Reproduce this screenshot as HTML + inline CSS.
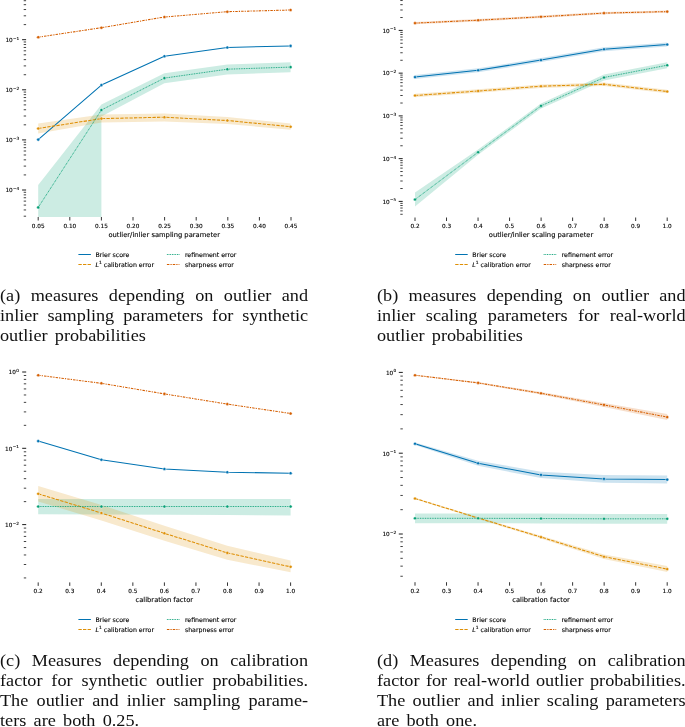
<!DOCTYPE html>
<html><head><meta charset="utf-8"><title>figure</title>
<style>
html,body{margin:0;padding:0;background:#fff;}
body{width:685px;height:727px;position:relative;overflow:hidden;}
svg{position:absolute;left:0;top:0;}
svg text{stroke:#000;stroke-width:0.12px;}
.cl{position:absolute;font-family:"Liberation Serif","DejaVu Serif",serif;font-size:16.2px;line-height:20.15px;height:20.15px;color:#111;white-space:nowrap;text-align:justify;text-align-last:justify;transform:scaleX(1.125);transform-origin:0 0;}
.cl.last{text-align:left;text-align-last:left;word-spacing:2.4px;}
</style></head><body>
<svg width="685" height="727" viewBox="0 0 685 727" font-family="'DejaVu Sans', 'Liberation Sans', sans-serif">
<g>
<polygon points="38.2,185 101.4,104.5 164.4,73.2 227.3,64.5 290.6,62.2 290.6,72.2 227.3,74.5 164.4,83.2 101.4,116.5 101.4,217 38.2,217" fill="#029e73" fill-opacity="0.2"/>
<polygon points="38.2,123.6 101.4,114.5 164.4,113.6 227.3,117 290.6,123.5 290.6,129.7 227.3,124 164.4,121.5 101.4,122.4 38.2,133.4" fill="#de8f05" fill-opacity="0.2"/>
<polyline points="38.2,139.6 101.4,85.1 164.4,56.2 227.3,47.5 290.6,45.9" fill="none" stroke="#0173b2" stroke-width="1.05" stroke-linejoin="round"/>
<circle cx="38.2" cy="139.6" r="1.55" fill="#0173b2" stroke="#fff" stroke-width="0.45"/>
<circle cx="101.4" cy="85.1" r="1.55" fill="#0173b2" stroke="#fff" stroke-width="0.45"/>
<circle cx="164.4" cy="56.2" r="1.55" fill="#0173b2" stroke="#fff" stroke-width="0.45"/>
<circle cx="227.3" cy="47.5" r="1.55" fill="#0173b2" stroke="#fff" stroke-width="0.45"/>
<circle cx="290.6" cy="45.9" r="1.55" fill="#0173b2" stroke="#fff" stroke-width="0.45"/>
<polyline points="38.2,128.5 101.4,118.6 164.4,117.2 227.3,120.5 290.6,126.7" fill="none" stroke="#de8f05" stroke-width="1.05" stroke-dasharray="3.35 1.25" stroke-linejoin="round"/>
<circle cx="38.2" cy="128.5" r="1.55" fill="#de8f05" stroke="#fff" stroke-width="0.45"/>
<circle cx="101.4" cy="118.6" r="1.55" fill="#de8f05" stroke="#fff" stroke-width="0.45"/>
<circle cx="164.4" cy="117.2" r="1.55" fill="#de8f05" stroke="#fff" stroke-width="0.45"/>
<circle cx="227.3" cy="120.5" r="1.55" fill="#de8f05" stroke="#fff" stroke-width="0.45"/>
<circle cx="290.6" cy="126.7" r="1.55" fill="#de8f05" stroke="#fff" stroke-width="0.45"/>
<polyline points="38.2,207.4 101.4,110 164.4,78.1 227.3,69.2 290.6,67.1" fill="none" stroke="#029e73" stroke-width="0.95" stroke-dasharray="0.84 0.84" stroke-linejoin="round"/>
<circle cx="38.2" cy="207.4" r="1.55" fill="#029e73" stroke="#fff" stroke-width="0.45"/>
<circle cx="101.4" cy="110" r="1.55" fill="#029e73" stroke="#fff" stroke-width="0.45"/>
<circle cx="164.4" cy="78.1" r="1.55" fill="#029e73" stroke="#fff" stroke-width="0.45"/>
<circle cx="227.3" cy="69.2" r="1.55" fill="#029e73" stroke="#fff" stroke-width="0.45"/>
<circle cx="290.6" cy="67.1" r="1.55" fill="#029e73" stroke="#fff" stroke-width="0.45"/>
<polyline points="38.2,37.2 101.4,27.7 164.4,17 227.3,11.7 290.6,10" fill="none" stroke="#d55e00" stroke-width="1.05" stroke-dasharray="2.5 1.05 1.25 1.05" stroke-linejoin="round"/>
<circle cx="38.2" cy="37.2" r="1.55" fill="#d55e00" stroke="#fff" stroke-width="0.45"/>
<circle cx="101.4" cy="27.7" r="1.55" fill="#d55e00" stroke="#fff" stroke-width="0.45"/>
<circle cx="164.4" cy="17" r="1.55" fill="#d55e00" stroke="#fff" stroke-width="0.45"/>
<circle cx="227.3" cy="11.7" r="1.55" fill="#d55e00" stroke="#fff" stroke-width="0.45"/>
<circle cx="290.6" cy="10" r="1.55" fill="#d55e00" stroke="#fff" stroke-width="0.45"/>
<line x1="23.7" x2="26.1" y1="216.2" y2="216.2" stroke="#000" stroke-width="0.75"/>
<line x1="23.7" x2="26.1" y1="209.94" y2="209.94" stroke="#000" stroke-width="0.75"/>
<line x1="23.7" x2="26.1" y1="205.08" y2="205.08" stroke="#000" stroke-width="0.75"/>
<line x1="23.7" x2="26.1" y1="201.11" y2="201.11" stroke="#000" stroke-width="0.75"/>
<line x1="23.7" x2="26.1" y1="197.76" y2="197.76" stroke="#000" stroke-width="0.75"/>
<line x1="23.7" x2="26.1" y1="194.86" y2="194.86" stroke="#000" stroke-width="0.75"/>
<line x1="23.7" x2="26.1" y1="192.29" y2="192.29" stroke="#000" stroke-width="0.75"/>
<line x1="22.1" x2="26.1" y1="190" y2="190" stroke="#000" stroke-width="0.9"/>
<line x1="23.7" x2="26.1" y1="174.92" y2="174.92" stroke="#000" stroke-width="0.75"/>
<line x1="23.7" x2="26.1" y1="166.1" y2="166.1" stroke="#000" stroke-width="0.75"/>
<line x1="23.7" x2="26.1" y1="159.84" y2="159.84" stroke="#000" stroke-width="0.75"/>
<line x1="23.7" x2="26.1" y1="154.98" y2="154.98" stroke="#000" stroke-width="0.75"/>
<line x1="23.7" x2="26.1" y1="151.01" y2="151.01" stroke="#000" stroke-width="0.75"/>
<line x1="23.7" x2="26.1" y1="147.66" y2="147.66" stroke="#000" stroke-width="0.75"/>
<line x1="23.7" x2="26.1" y1="144.76" y2="144.76" stroke="#000" stroke-width="0.75"/>
<line x1="23.7" x2="26.1" y1="142.19" y2="142.19" stroke="#000" stroke-width="0.75"/>
<line x1="22.1" x2="26.1" y1="139.9" y2="139.9" stroke="#000" stroke-width="0.9"/>
<line x1="23.7" x2="26.1" y1="124.82" y2="124.82" stroke="#000" stroke-width="0.75"/>
<line x1="23.7" x2="26.1" y1="116" y2="116" stroke="#000" stroke-width="0.75"/>
<line x1="23.7" x2="26.1" y1="109.74" y2="109.74" stroke="#000" stroke-width="0.75"/>
<line x1="23.7" x2="26.1" y1="104.88" y2="104.88" stroke="#000" stroke-width="0.75"/>
<line x1="23.7" x2="26.1" y1="100.91" y2="100.91" stroke="#000" stroke-width="0.75"/>
<line x1="23.7" x2="26.1" y1="97.56" y2="97.56" stroke="#000" stroke-width="0.75"/>
<line x1="23.7" x2="26.1" y1="94.66" y2="94.66" stroke="#000" stroke-width="0.75"/>
<line x1="23.7" x2="26.1" y1="92.09" y2="92.09" stroke="#000" stroke-width="0.75"/>
<line x1="22.1" x2="26.1" y1="89.8" y2="89.8" stroke="#000" stroke-width="0.9"/>
<line x1="23.7" x2="26.1" y1="74.72" y2="74.72" stroke="#000" stroke-width="0.75"/>
<line x1="23.7" x2="26.1" y1="65.9" y2="65.9" stroke="#000" stroke-width="0.75"/>
<line x1="23.7" x2="26.1" y1="59.64" y2="59.64" stroke="#000" stroke-width="0.75"/>
<line x1="23.7" x2="26.1" y1="54.78" y2="54.78" stroke="#000" stroke-width="0.75"/>
<line x1="23.7" x2="26.1" y1="50.81" y2="50.81" stroke="#000" stroke-width="0.75"/>
<line x1="23.7" x2="26.1" y1="47.46" y2="47.46" stroke="#000" stroke-width="0.75"/>
<line x1="23.7" x2="26.1" y1="44.56" y2="44.56" stroke="#000" stroke-width="0.75"/>
<line x1="23.7" x2="26.1" y1="41.99" y2="41.99" stroke="#000" stroke-width="0.75"/>
<line x1="22.1" x2="26.1" y1="39.7" y2="39.7" stroke="#000" stroke-width="0.9"/>
<line x1="23.7" x2="26.1" y1="24.62" y2="24.62" stroke="#000" stroke-width="0.75"/>
<line x1="23.7" x2="26.1" y1="15.8" y2="15.8" stroke="#000" stroke-width="0.75"/>
<line x1="23.7" x2="26.1" y1="9.54" y2="9.54" stroke="#000" stroke-width="0.75"/>
<line x1="23.7" x2="26.1" y1="4.68" y2="4.68" stroke="#000" stroke-width="0.75"/>
<line x1="23.7" x2="26.1" y1="0.71" y2="0.71" stroke="#000" stroke-width="0.75"/>
<text x="19.2" y="42" text-anchor="end" font-size="5.75" fill="#000">10<tspan dx="0.3" dy="-2.3" font-size="4.2">−1</tspan></text>
<text x="19.2" y="92.1" text-anchor="end" font-size="5.75" fill="#000">10<tspan dx="0.3" dy="-2.3" font-size="4.2">−2</tspan></text>
<text x="19.2" y="142.2" text-anchor="end" font-size="5.75" fill="#000">10<tspan dx="0.3" dy="-2.3" font-size="4.2">−3</tspan></text>
<text x="19.2" y="192.3" text-anchor="end" font-size="5.75" fill="#000">10<tspan dx="0.3" dy="-2.3" font-size="4.2">−4</tspan></text>
<line x1="38.2" x2="38.2" y1="217" y2="220.5" stroke="#000" stroke-width="0.8"/>
<text x="38.2" y="227.8" text-anchor="middle" font-size="5.75" fill="#000">0.05</text>
<line x1="69.8" x2="69.8" y1="217" y2="220.5" stroke="#000" stroke-width="0.8"/>
<text x="69.8" y="227.8" text-anchor="middle" font-size="5.75" fill="#000">0.10</text>
<line x1="101.4" x2="101.4" y1="217" y2="220.5" stroke="#000" stroke-width="0.8"/>
<text x="101.4" y="227.8" text-anchor="middle" font-size="5.75" fill="#000">0.15</text>
<line x1="133" x2="133" y1="217" y2="220.5" stroke="#000" stroke-width="0.8"/>
<text x="133" y="227.8" text-anchor="middle" font-size="5.75" fill="#000">0.20</text>
<line x1="164.6" x2="164.6" y1="217" y2="220.5" stroke="#000" stroke-width="0.8"/>
<text x="164.6" y="227.8" text-anchor="middle" font-size="5.75" fill="#000">0.25</text>
<line x1="196.2" x2="196.2" y1="217" y2="220.5" stroke="#000" stroke-width="0.8"/>
<text x="196.2" y="227.8" text-anchor="middle" font-size="5.75" fill="#000">0.30</text>
<line x1="227.8" x2="227.8" y1="217" y2="220.5" stroke="#000" stroke-width="0.8"/>
<text x="227.8" y="227.8" text-anchor="middle" font-size="5.75" fill="#000">0.35</text>
<line x1="259.4" x2="259.4" y1="217" y2="220.5" stroke="#000" stroke-width="0.8"/>
<text x="259.4" y="227.8" text-anchor="middle" font-size="5.75" fill="#000">0.40</text>
<line x1="291" x2="291" y1="217" y2="220.5" stroke="#000" stroke-width="0.8"/>
<text x="291" y="227.8" text-anchor="middle" font-size="5.75" fill="#000">0.45</text>
<text x="164.2" y="237.2" text-anchor="middle" font-size="6.75" fill="#000">outlier/inlier sampling parameter</text>
<line x1="78.4" x2="90.9" y1="254.5" y2="254.5" stroke="#0173b2" stroke-width="1.05"/>
<text x="95.5" y="256.8" font-size="6.25" fill="#000">Brier score</text>
<line x1="78.4" x2="90.9" y1="264.4" y2="264.4" stroke="#de8f05" stroke-width="1.05" stroke-dasharray="3.35 1.25"/>
<text x="95.5" y="266.7" font-size="6.25" fill="#000"><tspan font-style="italic">L</tspan><tspan dy="-2.4" font-size="4.4">1</tspan><tspan dy="2.4"> calibration error</tspan></text>
<line x1="166.9" x2="179.4" y1="254.5" y2="254.5" stroke="#029e73" stroke-width="1.05" stroke-dasharray="0.84 0.84"/>
<text x="184.9" y="256.8" font-size="6.25" fill="#000">refinement error</text>
<line x1="166.9" x2="179.4" y1="264.4" y2="264.4" stroke="#d55e00" stroke-width="1.05" stroke-dasharray="2.5 1.05 1.25 1.05"/>
<text x="184.9" y="266.7" font-size="6.25" fill="#000">sharpness error</text>
</g>
<g>
<polygon points="415,75.1 478.1,68.3 541,58.1 604,47.2 667.2,42.5 667.2,46.5 604,51.2 541,62.1 478.1,72.3 415,79.1" fill="#0173b2" fill-opacity="0.2"/>
<polygon points="415,93.8 478.1,89.3 541,84.5 604,82.6 667.2,89.8 667.2,93.2 604,86 541,87.9 478.1,92.7 415,97.2" fill="#de8f05" fill-opacity="0.2"/>
<polygon points="415,192.5 478.1,149.6 541,103.4 604,74.5 667.2,62.2 667.2,68.2 604,80.5 541,108.4 478.1,154.8 415,206.5" fill="#029e73" fill-opacity="0.2"/>
<polygon points="415,21.9 478.1,19 541,15.6 604,11.9 667.2,10.4 667.2,12.8 604,14.3 541,18 478.1,21.4 415,24.3" fill="#d55e00" fill-opacity="0.2"/>
<polyline points="415,77.1 478.1,70.3 541,60.1 604,49.2 667.2,44.5" fill="none" stroke="#0173b2" stroke-width="1.05" stroke-linejoin="round"/>
<circle cx="415" cy="77.1" r="1.55" fill="#0173b2" stroke="#fff" stroke-width="0.45"/>
<circle cx="478.1" cy="70.3" r="1.55" fill="#0173b2" stroke="#fff" stroke-width="0.45"/>
<circle cx="541" cy="60.1" r="1.55" fill="#0173b2" stroke="#fff" stroke-width="0.45"/>
<circle cx="604" cy="49.2" r="1.55" fill="#0173b2" stroke="#fff" stroke-width="0.45"/>
<circle cx="667.2" cy="44.5" r="1.55" fill="#0173b2" stroke="#fff" stroke-width="0.45"/>
<polyline points="415,95.5 478.1,91 541,86.2 604,84.3 667.2,91.5" fill="none" stroke="#de8f05" stroke-width="1.05" stroke-dasharray="3.35 1.25" stroke-linejoin="round"/>
<circle cx="415" cy="95.5" r="1.55" fill="#de8f05" stroke="#fff" stroke-width="0.45"/>
<circle cx="478.1" cy="91" r="1.55" fill="#de8f05" stroke="#fff" stroke-width="0.45"/>
<circle cx="541" cy="86.2" r="1.55" fill="#de8f05" stroke="#fff" stroke-width="0.45"/>
<circle cx="604" cy="84.3" r="1.55" fill="#de8f05" stroke="#fff" stroke-width="0.45"/>
<circle cx="667.2" cy="91.5" r="1.55" fill="#de8f05" stroke="#fff" stroke-width="0.45"/>
<polyline points="415,199.5 478.1,152.2 541,105.9 604,77.5 667.2,65.2" fill="none" stroke="#029e73" stroke-width="0.95" stroke-dasharray="0.84 0.84" stroke-linejoin="round"/>
<circle cx="415" cy="199.5" r="1.55" fill="#029e73" stroke="#fff" stroke-width="0.45"/>
<circle cx="478.1" cy="152.2" r="1.55" fill="#029e73" stroke="#fff" stroke-width="0.45"/>
<circle cx="541" cy="105.9" r="1.55" fill="#029e73" stroke="#fff" stroke-width="0.45"/>
<circle cx="604" cy="77.5" r="1.55" fill="#029e73" stroke="#fff" stroke-width="0.45"/>
<circle cx="667.2" cy="65.2" r="1.55" fill="#029e73" stroke="#fff" stroke-width="0.45"/>
<polyline points="415,23.1 478.1,20.2 541,16.8 604,13.1 667.2,11.6" fill="none" stroke="#d55e00" stroke-width="1.05" stroke-dasharray="2.5 1.05 1.25 1.05" stroke-linejoin="round"/>
<circle cx="415" cy="23.1" r="1.55" fill="#d55e00" stroke="#fff" stroke-width="0.45"/>
<circle cx="478.1" cy="20.2" r="1.55" fill="#d55e00" stroke="#fff" stroke-width="0.45"/>
<circle cx="541" cy="16.8" r="1.55" fill="#d55e00" stroke="#fff" stroke-width="0.45"/>
<circle cx="604" cy="13.1" r="1.55" fill="#d55e00" stroke="#fff" stroke-width="0.45"/>
<circle cx="667.2" cy="11.6" r="1.55" fill="#d55e00" stroke="#fff" stroke-width="0.45"/>
<line x1="400.3" x2="402.7" y1="214.27" y2="214.27" stroke="#000" stroke-width="0.75"/>
<line x1="400.3" x2="402.7" y1="210.88" y2="210.88" stroke="#000" stroke-width="0.75"/>
<line x1="400.3" x2="402.7" y1="208.02" y2="208.02" stroke="#000" stroke-width="0.75"/>
<line x1="400.3" x2="402.7" y1="205.54" y2="205.54" stroke="#000" stroke-width="0.75"/>
<line x1="400.3" x2="402.7" y1="203.36" y2="203.36" stroke="#000" stroke-width="0.75"/>
<line x1="398.7" x2="402.7" y1="201.4" y2="201.4" stroke="#000" stroke-width="0.9"/>
<line x1="400.3" x2="402.7" y1="188.53" y2="188.53" stroke="#000" stroke-width="0.75"/>
<line x1="400.3" x2="402.7" y1="181" y2="181" stroke="#000" stroke-width="0.75"/>
<line x1="400.3" x2="402.7" y1="175.66" y2="175.66" stroke="#000" stroke-width="0.75"/>
<line x1="400.3" x2="402.7" y1="171.52" y2="171.52" stroke="#000" stroke-width="0.75"/>
<line x1="400.3" x2="402.7" y1="168.13" y2="168.13" stroke="#000" stroke-width="0.75"/>
<line x1="400.3" x2="402.7" y1="165.27" y2="165.27" stroke="#000" stroke-width="0.75"/>
<line x1="400.3" x2="402.7" y1="162.79" y2="162.79" stroke="#000" stroke-width="0.75"/>
<line x1="400.3" x2="402.7" y1="160.61" y2="160.61" stroke="#000" stroke-width="0.75"/>
<line x1="398.7" x2="402.7" y1="158.65" y2="158.65" stroke="#000" stroke-width="0.9"/>
<line x1="400.3" x2="402.7" y1="145.78" y2="145.78" stroke="#000" stroke-width="0.75"/>
<line x1="400.3" x2="402.7" y1="138.25" y2="138.25" stroke="#000" stroke-width="0.75"/>
<line x1="400.3" x2="402.7" y1="132.91" y2="132.91" stroke="#000" stroke-width="0.75"/>
<line x1="400.3" x2="402.7" y1="128.77" y2="128.77" stroke="#000" stroke-width="0.75"/>
<line x1="400.3" x2="402.7" y1="125.38" y2="125.38" stroke="#000" stroke-width="0.75"/>
<line x1="400.3" x2="402.7" y1="122.52" y2="122.52" stroke="#000" stroke-width="0.75"/>
<line x1="400.3" x2="402.7" y1="120.04" y2="120.04" stroke="#000" stroke-width="0.75"/>
<line x1="400.3" x2="402.7" y1="117.86" y2="117.86" stroke="#000" stroke-width="0.75"/>
<line x1="398.7" x2="402.7" y1="115.9" y2="115.9" stroke="#000" stroke-width="0.9"/>
<line x1="400.3" x2="402.7" y1="103.03" y2="103.03" stroke="#000" stroke-width="0.75"/>
<line x1="400.3" x2="402.7" y1="95.5" y2="95.5" stroke="#000" stroke-width="0.75"/>
<line x1="400.3" x2="402.7" y1="90.16" y2="90.16" stroke="#000" stroke-width="0.75"/>
<line x1="400.3" x2="402.7" y1="86.02" y2="86.02" stroke="#000" stroke-width="0.75"/>
<line x1="400.3" x2="402.7" y1="82.63" y2="82.63" stroke="#000" stroke-width="0.75"/>
<line x1="400.3" x2="402.7" y1="79.77" y2="79.77" stroke="#000" stroke-width="0.75"/>
<line x1="400.3" x2="402.7" y1="77.29" y2="77.29" stroke="#000" stroke-width="0.75"/>
<line x1="400.3" x2="402.7" y1="75.11" y2="75.11" stroke="#000" stroke-width="0.75"/>
<line x1="398.7" x2="402.7" y1="73.15" y2="73.15" stroke="#000" stroke-width="0.9"/>
<line x1="400.3" x2="402.7" y1="60.28" y2="60.28" stroke="#000" stroke-width="0.75"/>
<line x1="400.3" x2="402.7" y1="52.75" y2="52.75" stroke="#000" stroke-width="0.75"/>
<line x1="400.3" x2="402.7" y1="47.41" y2="47.41" stroke="#000" stroke-width="0.75"/>
<line x1="400.3" x2="402.7" y1="43.27" y2="43.27" stroke="#000" stroke-width="0.75"/>
<line x1="400.3" x2="402.7" y1="39.88" y2="39.88" stroke="#000" stroke-width="0.75"/>
<line x1="400.3" x2="402.7" y1="37.02" y2="37.02" stroke="#000" stroke-width="0.75"/>
<line x1="400.3" x2="402.7" y1="34.54" y2="34.54" stroke="#000" stroke-width="0.75"/>
<line x1="400.3" x2="402.7" y1="32.36" y2="32.36" stroke="#000" stroke-width="0.75"/>
<line x1="398.7" x2="402.7" y1="30.4" y2="30.4" stroke="#000" stroke-width="0.9"/>
<line x1="400.3" x2="402.7" y1="17.53" y2="17.53" stroke="#000" stroke-width="0.75"/>
<line x1="400.3" x2="402.7" y1="10" y2="10" stroke="#000" stroke-width="0.75"/>
<line x1="400.3" x2="402.7" y1="4.66" y2="4.66" stroke="#000" stroke-width="0.75"/>
<line x1="400.3" x2="402.7" y1="0.52" y2="0.52" stroke="#000" stroke-width="0.75"/>
<text x="396.2" y="32.7" text-anchor="end" font-size="5.75" fill="#000">10<tspan dx="0.3" dy="-2.3" font-size="4.2">−1</tspan></text>
<text x="396.2" y="75.45" text-anchor="end" font-size="5.75" fill="#000">10<tspan dx="0.3" dy="-2.3" font-size="4.2">−2</tspan></text>
<text x="396.2" y="118.2" text-anchor="end" font-size="5.75" fill="#000">10<tspan dx="0.3" dy="-2.3" font-size="4.2">−3</tspan></text>
<text x="396.2" y="160.95" text-anchor="end" font-size="5.75" fill="#000">10<tspan dx="0.3" dy="-2.3" font-size="4.2">−4</tspan></text>
<text x="396.2" y="203.7" text-anchor="end" font-size="5.75" fill="#000">10<tspan dx="0.3" dy="-2.3" font-size="4.2">−5</tspan></text>
<line x1="415" x2="415" y1="217.5" y2="221" stroke="#000" stroke-width="0.8"/>
<text x="415" y="228.2" text-anchor="middle" font-size="5.75" fill="#000">0.2</text>
<line x1="446.52" x2="446.52" y1="217.5" y2="221" stroke="#000" stroke-width="0.8"/>
<text x="446.52" y="228.2" text-anchor="middle" font-size="5.75" fill="#000">0.3</text>
<line x1="478.05" x2="478.05" y1="217.5" y2="221" stroke="#000" stroke-width="0.8"/>
<text x="478.05" y="228.2" text-anchor="middle" font-size="5.75" fill="#000">0.4</text>
<line x1="509.57" x2="509.57" y1="217.5" y2="221" stroke="#000" stroke-width="0.8"/>
<text x="509.57" y="228.2" text-anchor="middle" font-size="5.75" fill="#000">0.5</text>
<line x1="541.1" x2="541.1" y1="217.5" y2="221" stroke="#000" stroke-width="0.8"/>
<text x="541.1" y="228.2" text-anchor="middle" font-size="5.75" fill="#000">0.6</text>
<line x1="572.62" x2="572.62" y1="217.5" y2="221" stroke="#000" stroke-width="0.8"/>
<text x="572.62" y="228.2" text-anchor="middle" font-size="5.75" fill="#000">0.7</text>
<line x1="604.15" x2="604.15" y1="217.5" y2="221" stroke="#000" stroke-width="0.8"/>
<text x="604.15" y="228.2" text-anchor="middle" font-size="5.75" fill="#000">0.8</text>
<line x1="635.67" x2="635.67" y1="217.5" y2="221" stroke="#000" stroke-width="0.8"/>
<text x="635.67" y="228.2" text-anchor="middle" font-size="5.75" fill="#000">0.9</text>
<line x1="667.2" x2="667.2" y1="217.5" y2="221" stroke="#000" stroke-width="0.8"/>
<text x="667.2" y="228.2" text-anchor="middle" font-size="5.75" fill="#000">1.0</text>
<text x="541" y="237.3" text-anchor="middle" font-size="6.75" fill="#000">outlier/inlier scaling parameter</text>
<line x1="455.2" x2="467.7" y1="254.5" y2="254.5" stroke="#0173b2" stroke-width="1.05"/>
<text x="472.3" y="256.8" font-size="6.25" fill="#000">Brier score</text>
<line x1="455.2" x2="467.7" y1="264.4" y2="264.4" stroke="#de8f05" stroke-width="1.05" stroke-dasharray="3.35 1.25"/>
<text x="472.3" y="266.7" font-size="6.25" fill="#000"><tspan font-style="italic">L</tspan><tspan dy="-2.4" font-size="4.4">1</tspan><tspan dy="2.4"> calibration error</tspan></text>
<line x1="543.7" x2="556.2" y1="254.5" y2="254.5" stroke="#029e73" stroke-width="1.05" stroke-dasharray="0.84 0.84"/>
<text x="561.7" y="256.8" font-size="6.25" fill="#000">refinement error</text>
<line x1="543.7" x2="556.2" y1="264.4" y2="264.4" stroke="#d55e00" stroke-width="1.05" stroke-dasharray="2.5 1.05 1.25 1.05"/>
<text x="561.7" y="266.7" font-size="6.25" fill="#000">sharpness error</text>
</g>
<g>
<polygon points="38.2,499 101.4,499 164.4,499 227.3,499 290.6,499 290.6,515.4 227.3,515.1 164.4,514.8 101.4,514.5 38.2,514.2" fill="#029e73" fill-opacity="0.2"/>
<polygon points="38.2,486.1 101.4,505 164.4,525.8 227.3,545.7 290.6,560.6 290.6,572.2 227.3,559.8 164.4,540.7 101.4,520.5 38.2,501.5" fill="#de8f05" fill-opacity="0.2"/>
<polyline points="38.2,441.1 101.4,459.7 164.4,469 227.3,472.2 290.6,473.2" fill="none" stroke="#0173b2" stroke-width="1.05" stroke-linejoin="round"/>
<circle cx="38.2" cy="441.1" r="1.55" fill="#0173b2" stroke="#fff" stroke-width="0.45"/>
<circle cx="101.4" cy="459.7" r="1.55" fill="#0173b2" stroke="#fff" stroke-width="0.45"/>
<circle cx="164.4" cy="469" r="1.55" fill="#0173b2" stroke="#fff" stroke-width="0.45"/>
<circle cx="227.3" cy="472.2" r="1.55" fill="#0173b2" stroke="#fff" stroke-width="0.45"/>
<circle cx="290.6" cy="473.2" r="1.55" fill="#0173b2" stroke="#fff" stroke-width="0.45"/>
<polyline points="38.2,493.8 101.4,513 164.4,533.3 227.3,552.9 290.6,566.8" fill="none" stroke="#de8f05" stroke-width="1.05" stroke-dasharray="3.35 1.25" stroke-linejoin="round"/>
<circle cx="38.2" cy="493.8" r="1.55" fill="#de8f05" stroke="#fff" stroke-width="0.45"/>
<circle cx="101.4" cy="513" r="1.55" fill="#de8f05" stroke="#fff" stroke-width="0.45"/>
<circle cx="164.4" cy="533.3" r="1.55" fill="#de8f05" stroke="#fff" stroke-width="0.45"/>
<circle cx="227.3" cy="552.9" r="1.55" fill="#de8f05" stroke="#fff" stroke-width="0.45"/>
<circle cx="290.6" cy="566.8" r="1.55" fill="#de8f05" stroke="#fff" stroke-width="0.45"/>
<polyline points="38.2,506.5 101.4,506.5 164.4,506.5 227.3,506.5 290.6,506.5" fill="none" stroke="#029e73" stroke-width="0.95" stroke-dasharray="0.84 0.84" stroke-linejoin="round"/>
<circle cx="38.2" cy="506.5" r="1.55" fill="#029e73" stroke="#fff" stroke-width="0.45"/>
<circle cx="101.4" cy="506.5" r="1.55" fill="#029e73" stroke="#fff" stroke-width="0.45"/>
<circle cx="164.4" cy="506.5" r="1.55" fill="#029e73" stroke="#fff" stroke-width="0.45"/>
<circle cx="227.3" cy="506.5" r="1.55" fill="#029e73" stroke="#fff" stroke-width="0.45"/>
<circle cx="290.6" cy="506.5" r="1.55" fill="#029e73" stroke="#fff" stroke-width="0.45"/>
<polyline points="38.2,375.2 101.4,383.3 164.4,393.9 227.3,404.1 290.6,413.5" fill="none" stroke="#d55e00" stroke-width="1.05" stroke-dasharray="2.5 1.05 1.25 1.05" stroke-linejoin="round"/>
<circle cx="38.2" cy="375.2" r="1.55" fill="#d55e00" stroke="#fff" stroke-width="0.45"/>
<circle cx="101.4" cy="383.3" r="1.55" fill="#d55e00" stroke="#fff" stroke-width="0.45"/>
<circle cx="164.4" cy="393.9" r="1.55" fill="#d55e00" stroke="#fff" stroke-width="0.45"/>
<circle cx="227.3" cy="404.1" r="1.55" fill="#d55e00" stroke="#fff" stroke-width="0.45"/>
<circle cx="290.6" cy="413.5" r="1.55" fill="#d55e00" stroke="#fff" stroke-width="0.45"/>
<line x1="23.8" x2="26.2" y1="577.93" y2="577.93" stroke="#000" stroke-width="0.75"/>
<line x1="23.8" x2="26.2" y1="564.5" y2="564.5" stroke="#000" stroke-width="0.75"/>
<line x1="23.8" x2="26.2" y1="554.96" y2="554.96" stroke="#000" stroke-width="0.75"/>
<line x1="23.8" x2="26.2" y1="547.57" y2="547.57" stroke="#000" stroke-width="0.75"/>
<line x1="23.8" x2="26.2" y1="541.53" y2="541.53" stroke="#000" stroke-width="0.75"/>
<line x1="23.8" x2="26.2" y1="536.42" y2="536.42" stroke="#000" stroke-width="0.75"/>
<line x1="23.8" x2="26.2" y1="531.99" y2="531.99" stroke="#000" stroke-width="0.75"/>
<line x1="23.8" x2="26.2" y1="528.09" y2="528.09" stroke="#000" stroke-width="0.75"/>
<line x1="22.2" x2="26.2" y1="524.6" y2="524.6" stroke="#000" stroke-width="0.9"/>
<line x1="23.8" x2="26.2" y1="501.63" y2="501.63" stroke="#000" stroke-width="0.75"/>
<line x1="23.8" x2="26.2" y1="488.2" y2="488.2" stroke="#000" stroke-width="0.75"/>
<line x1="23.8" x2="26.2" y1="478.66" y2="478.66" stroke="#000" stroke-width="0.75"/>
<line x1="23.8" x2="26.2" y1="471.27" y2="471.27" stroke="#000" stroke-width="0.75"/>
<line x1="23.8" x2="26.2" y1="465.23" y2="465.23" stroke="#000" stroke-width="0.75"/>
<line x1="23.8" x2="26.2" y1="460.12" y2="460.12" stroke="#000" stroke-width="0.75"/>
<line x1="23.8" x2="26.2" y1="455.69" y2="455.69" stroke="#000" stroke-width="0.75"/>
<line x1="23.8" x2="26.2" y1="451.79" y2="451.79" stroke="#000" stroke-width="0.75"/>
<line x1="22.2" x2="26.2" y1="448.3" y2="448.3" stroke="#000" stroke-width="0.9"/>
<line x1="23.8" x2="26.2" y1="425.33" y2="425.33" stroke="#000" stroke-width="0.75"/>
<line x1="23.8" x2="26.2" y1="411.9" y2="411.9" stroke="#000" stroke-width="0.75"/>
<line x1="23.8" x2="26.2" y1="402.36" y2="402.36" stroke="#000" stroke-width="0.75"/>
<line x1="23.8" x2="26.2" y1="394.97" y2="394.97" stroke="#000" stroke-width="0.75"/>
<line x1="23.8" x2="26.2" y1="388.93" y2="388.93" stroke="#000" stroke-width="0.75"/>
<line x1="23.8" x2="26.2" y1="383.82" y2="383.82" stroke="#000" stroke-width="0.75"/>
<line x1="23.8" x2="26.2" y1="379.39" y2="379.39" stroke="#000" stroke-width="0.75"/>
<line x1="23.8" x2="26.2" y1="375.49" y2="375.49" stroke="#000" stroke-width="0.75"/>
<line x1="22.2" x2="26.2" y1="372" y2="372" stroke="#000" stroke-width="0.9"/>
<text x="18.9" y="374.3" text-anchor="end" font-size="5.75" fill="#000">10<tspan dx="0.3" dy="-2.3" font-size="4.2">0</tspan></text>
<text x="18.9" y="450.6" text-anchor="end" font-size="5.75" fill="#000">10<tspan dx="0.3" dy="-2.3" font-size="4.2">−1</tspan></text>
<text x="18.9" y="526.9" text-anchor="end" font-size="5.75" fill="#000">10<tspan dx="0.3" dy="-2.3" font-size="4.2">−2</tspan></text>
<line x1="38.2" x2="38.2" y1="582.4" y2="585.9" stroke="#000" stroke-width="0.8"/>
<text x="38.2" y="592.8" text-anchor="middle" font-size="5.75" fill="#000">0.2</text>
<line x1="69.75" x2="69.75" y1="582.4" y2="585.9" stroke="#000" stroke-width="0.8"/>
<text x="69.75" y="592.8" text-anchor="middle" font-size="5.75" fill="#000">0.3</text>
<line x1="101.3" x2="101.3" y1="582.4" y2="585.9" stroke="#000" stroke-width="0.8"/>
<text x="101.3" y="592.8" text-anchor="middle" font-size="5.75" fill="#000">0.4</text>
<line x1="132.85" x2="132.85" y1="582.4" y2="585.9" stroke="#000" stroke-width="0.8"/>
<text x="132.85" y="592.8" text-anchor="middle" font-size="5.75" fill="#000">0.5</text>
<line x1="164.4" x2="164.4" y1="582.4" y2="585.9" stroke="#000" stroke-width="0.8"/>
<text x="164.4" y="592.8" text-anchor="middle" font-size="5.75" fill="#000">0.6</text>
<line x1="195.95" x2="195.95" y1="582.4" y2="585.9" stroke="#000" stroke-width="0.8"/>
<text x="195.95" y="592.8" text-anchor="middle" font-size="5.75" fill="#000">0.7</text>
<line x1="227.5" x2="227.5" y1="582.4" y2="585.9" stroke="#000" stroke-width="0.8"/>
<text x="227.5" y="592.8" text-anchor="middle" font-size="5.75" fill="#000">0.8</text>
<line x1="259.05" x2="259.05" y1="582.4" y2="585.9" stroke="#000" stroke-width="0.8"/>
<text x="259.05" y="592.8" text-anchor="middle" font-size="5.75" fill="#000">0.9</text>
<line x1="290.6" x2="290.6" y1="582.4" y2="585.9" stroke="#000" stroke-width="0.8"/>
<text x="290.6" y="592.8" text-anchor="middle" font-size="5.75" fill="#000">1.0</text>
<text x="164.3" y="601.7" text-anchor="middle" font-size="6.75" fill="#000">calibration factor</text>
<line x1="78.4" x2="90.9" y1="619.5" y2="619.5" stroke="#0173b2" stroke-width="1.05"/>
<text x="95.5" y="621.8" font-size="6.25" fill="#000">Brier score</text>
<line x1="78.4" x2="90.9" y1="629.4" y2="629.4" stroke="#de8f05" stroke-width="1.05" stroke-dasharray="3.35 1.25"/>
<text x="95.5" y="631.7" font-size="6.25" fill="#000"><tspan font-style="italic">L</tspan><tspan dy="-2.4" font-size="4.4">1</tspan><tspan dy="2.4"> calibration error</tspan></text>
<line x1="166.9" x2="179.4" y1="619.5" y2="619.5" stroke="#029e73" stroke-width="1.05" stroke-dasharray="0.84 0.84"/>
<text x="184.9" y="621.8" font-size="6.25" fill="#000">refinement error</text>
<line x1="166.9" x2="179.4" y1="629.4" y2="629.4" stroke="#d55e00" stroke-width="1.05" stroke-dasharray="2.5 1.05 1.25 1.05"/>
<text x="184.9" y="631.7" font-size="6.25" fill="#000">sharpness error</text>
</g>
<g>
<polygon points="415,442.5 478.1,460.8 541,471.7 604,475.1 667.2,475.6 667.2,483.6 604,482.7 541,478.1 478.1,465.8 415,444.9" fill="#0173b2" fill-opacity="0.2"/>
<polygon points="415,497.8 478.1,517 541,535.7 604,554.5 667.2,566.1 667.2,572.1 604,558.9 541,538.5 478.1,519 415,499.2" fill="#de8f05" fill-opacity="0.2"/>
<polygon points="415,513.4 478.1,513.4 541,513.6 604,513.9 667.2,513.9 667.2,523.7 604,523.7 541,523.4 478.1,523.2 415,523.2" fill="#029e73" fill-opacity="0.2"/>
<polygon points="415,374.8 478.1,382.1 541,392.1 604,402.9 667.2,414.1 667.2,420.1 604,406.9 541,394.5 478.1,383.7 415,375.6" fill="#d55e00" fill-opacity="0.2"/>
<polyline points="415,443.7 478.1,463.3 541,474.9 604,478.9 667.2,479.6" fill="none" stroke="#0173b2" stroke-width="1.05" stroke-linejoin="round"/>
<circle cx="415" cy="443.7" r="1.55" fill="#0173b2" stroke="#fff" stroke-width="0.45"/>
<circle cx="478.1" cy="463.3" r="1.55" fill="#0173b2" stroke="#fff" stroke-width="0.45"/>
<circle cx="541" cy="474.9" r="1.55" fill="#0173b2" stroke="#fff" stroke-width="0.45"/>
<circle cx="604" cy="478.9" r="1.55" fill="#0173b2" stroke="#fff" stroke-width="0.45"/>
<circle cx="667.2" cy="479.6" r="1.55" fill="#0173b2" stroke="#fff" stroke-width="0.45"/>
<polyline points="415,498.5 478.1,518 541,537.1 604,556.7 667.2,569.1" fill="none" stroke="#de8f05" stroke-width="1.05" stroke-dasharray="3.35 1.25" stroke-linejoin="round"/>
<circle cx="415" cy="498.5" r="1.55" fill="#de8f05" stroke="#fff" stroke-width="0.45"/>
<circle cx="478.1" cy="518" r="1.55" fill="#de8f05" stroke="#fff" stroke-width="0.45"/>
<circle cx="541" cy="537.1" r="1.55" fill="#de8f05" stroke="#fff" stroke-width="0.45"/>
<circle cx="604" cy="556.7" r="1.55" fill="#de8f05" stroke="#fff" stroke-width="0.45"/>
<circle cx="667.2" cy="569.1" r="1.55" fill="#de8f05" stroke="#fff" stroke-width="0.45"/>
<polyline points="415,518.3 478.1,518.3 541,518.5 604,518.8 667.2,518.8" fill="none" stroke="#029e73" stroke-width="0.95" stroke-dasharray="0.84 0.84" stroke-linejoin="round"/>
<circle cx="415" cy="518.3" r="1.55" fill="#029e73" stroke="#fff" stroke-width="0.45"/>
<circle cx="478.1" cy="518.3" r="1.55" fill="#029e73" stroke="#fff" stroke-width="0.45"/>
<circle cx="541" cy="518.5" r="1.55" fill="#029e73" stroke="#fff" stroke-width="0.45"/>
<circle cx="604" cy="518.8" r="1.55" fill="#029e73" stroke="#fff" stroke-width="0.45"/>
<circle cx="667.2" cy="518.8" r="1.55" fill="#029e73" stroke="#fff" stroke-width="0.45"/>
<polyline points="415,375.2 478.1,382.9 541,393.3 604,404.9 667.2,417.1" fill="none" stroke="#d55e00" stroke-width="1.05" stroke-dasharray="2.5 1.05 1.25 1.05" stroke-linejoin="round"/>
<circle cx="415" cy="375.2" r="1.55" fill="#d55e00" stroke="#fff" stroke-width="0.45"/>
<circle cx="478.1" cy="382.9" r="1.55" fill="#d55e00" stroke="#fff" stroke-width="0.45"/>
<circle cx="541" cy="393.3" r="1.55" fill="#d55e00" stroke="#fff" stroke-width="0.45"/>
<circle cx="604" cy="404.9" r="1.55" fill="#d55e00" stroke="#fff" stroke-width="0.45"/>
<circle cx="667.2" cy="417.1" r="1.55" fill="#d55e00" stroke="#fff" stroke-width="0.45"/>
<line x1="400.4" x2="402.8" y1="576.25" y2="576.25" stroke="#000" stroke-width="0.75"/>
<line x1="400.4" x2="402.8" y1="566.15" y2="566.15" stroke="#000" stroke-width="0.75"/>
<line x1="400.4" x2="402.8" y1="558.32" y2="558.32" stroke="#000" stroke-width="0.75"/>
<line x1="400.4" x2="402.8" y1="551.93" y2="551.93" stroke="#000" stroke-width="0.75"/>
<line x1="400.4" x2="402.8" y1="546.52" y2="546.52" stroke="#000" stroke-width="0.75"/>
<line x1="400.4" x2="402.8" y1="541.83" y2="541.83" stroke="#000" stroke-width="0.75"/>
<line x1="400.4" x2="402.8" y1="537.7" y2="537.7" stroke="#000" stroke-width="0.75"/>
<line x1="398.8" x2="402.8" y1="534" y2="534" stroke="#000" stroke-width="0.9"/>
<line x1="400.4" x2="402.8" y1="509.68" y2="509.68" stroke="#000" stroke-width="0.75"/>
<line x1="400.4" x2="402.8" y1="495.45" y2="495.45" stroke="#000" stroke-width="0.75"/>
<line x1="400.4" x2="402.8" y1="485.35" y2="485.35" stroke="#000" stroke-width="0.75"/>
<line x1="400.4" x2="402.8" y1="477.52" y2="477.52" stroke="#000" stroke-width="0.75"/>
<line x1="400.4" x2="402.8" y1="471.13" y2="471.13" stroke="#000" stroke-width="0.75"/>
<line x1="400.4" x2="402.8" y1="465.72" y2="465.72" stroke="#000" stroke-width="0.75"/>
<line x1="400.4" x2="402.8" y1="461.03" y2="461.03" stroke="#000" stroke-width="0.75"/>
<line x1="400.4" x2="402.8" y1="456.9" y2="456.9" stroke="#000" stroke-width="0.75"/>
<line x1="398.8" x2="402.8" y1="453.2" y2="453.2" stroke="#000" stroke-width="0.9"/>
<line x1="400.4" x2="402.8" y1="428.88" y2="428.88" stroke="#000" stroke-width="0.75"/>
<line x1="400.4" x2="402.8" y1="414.65" y2="414.65" stroke="#000" stroke-width="0.75"/>
<line x1="400.4" x2="402.8" y1="404.55" y2="404.55" stroke="#000" stroke-width="0.75"/>
<line x1="400.4" x2="402.8" y1="396.72" y2="396.72" stroke="#000" stroke-width="0.75"/>
<line x1="400.4" x2="402.8" y1="390.33" y2="390.33" stroke="#000" stroke-width="0.75"/>
<line x1="400.4" x2="402.8" y1="384.92" y2="384.92" stroke="#000" stroke-width="0.75"/>
<line x1="400.4" x2="402.8" y1="380.23" y2="380.23" stroke="#000" stroke-width="0.75"/>
<line x1="400.4" x2="402.8" y1="376.1" y2="376.1" stroke="#000" stroke-width="0.75"/>
<line x1="398.8" x2="402.8" y1="372.4" y2="372.4" stroke="#000" stroke-width="0.9"/>
<text x="396.2" y="374.7" text-anchor="end" font-size="5.75" fill="#000">10<tspan dx="0.3" dy="-2.3" font-size="4.2">0</tspan></text>
<text x="396.2" y="455.5" text-anchor="end" font-size="5.75" fill="#000">10<tspan dx="0.3" dy="-2.3" font-size="4.2">−1</tspan></text>
<text x="396.2" y="536.3" text-anchor="end" font-size="5.75" fill="#000">10<tspan dx="0.3" dy="-2.3" font-size="4.2">−2</tspan></text>
<line x1="415" x2="415" y1="582.2" y2="585.7" stroke="#000" stroke-width="0.8"/>
<text x="415" y="593" text-anchor="middle" font-size="5.75" fill="#000">0.2</text>
<line x1="446.52" x2="446.52" y1="582.2" y2="585.7" stroke="#000" stroke-width="0.8"/>
<text x="446.52" y="593" text-anchor="middle" font-size="5.75" fill="#000">0.3</text>
<line x1="478.05" x2="478.05" y1="582.2" y2="585.7" stroke="#000" stroke-width="0.8"/>
<text x="478.05" y="593" text-anchor="middle" font-size="5.75" fill="#000">0.4</text>
<line x1="509.57" x2="509.57" y1="582.2" y2="585.7" stroke="#000" stroke-width="0.8"/>
<text x="509.57" y="593" text-anchor="middle" font-size="5.75" fill="#000">0.5</text>
<line x1="541.1" x2="541.1" y1="582.2" y2="585.7" stroke="#000" stroke-width="0.8"/>
<text x="541.1" y="593" text-anchor="middle" font-size="5.75" fill="#000">0.6</text>
<line x1="572.62" x2="572.62" y1="582.2" y2="585.7" stroke="#000" stroke-width="0.8"/>
<text x="572.62" y="593" text-anchor="middle" font-size="5.75" fill="#000">0.7</text>
<line x1="604.15" x2="604.15" y1="582.2" y2="585.7" stroke="#000" stroke-width="0.8"/>
<text x="604.15" y="593" text-anchor="middle" font-size="5.75" fill="#000">0.8</text>
<line x1="635.67" x2="635.67" y1="582.2" y2="585.7" stroke="#000" stroke-width="0.8"/>
<text x="635.67" y="593" text-anchor="middle" font-size="5.75" fill="#000">0.9</text>
<line x1="667.2" x2="667.2" y1="582.2" y2="585.7" stroke="#000" stroke-width="0.8"/>
<text x="667.2" y="593" text-anchor="middle" font-size="5.75" fill="#000">1.0</text>
<text x="541" y="602.4" text-anchor="middle" font-size="6.75" fill="#000">calibration factor</text>
<line x1="455.2" x2="467.7" y1="619.5" y2="619.5" stroke="#0173b2" stroke-width="1.05"/>
<text x="472.3" y="621.8" font-size="6.25" fill="#000">Brier score</text>
<line x1="455.2" x2="467.7" y1="629.4" y2="629.4" stroke="#de8f05" stroke-width="1.05" stroke-dasharray="3.35 1.25"/>
<text x="472.3" y="631.7" font-size="6.25" fill="#000"><tspan font-style="italic">L</tspan><tspan dy="-2.4" font-size="4.4">1</tspan><tspan dy="2.4"> calibration error</tspan></text>
<line x1="543.7" x2="556.2" y1="619.5" y2="619.5" stroke="#029e73" stroke-width="1.05" stroke-dasharray="0.84 0.84"/>
<text x="561.7" y="621.8" font-size="6.25" fill="#000">refinement error</text>
<line x1="543.7" x2="556.2" y1="629.4" y2="629.4" stroke="#d55e00" stroke-width="1.05" stroke-dasharray="2.5 1.05 1.25 1.05"/>
<text x="561.7" y="631.7" font-size="6.25" fill="#000">sharpness error</text>
</g>
</svg>
<div class="cl" style="left:-0.4px;top:286.04px;width:273.87px">(a) measures depending on outlier and</div>
<div class="cl" style="left:-0.4px;top:306.19px;width:273.87px">inlier sampling parameters for synthetic</div>
<div class="cl last" style="left:-0.4px;top:326.34px;width:273.87px">outlier probabilities</div>
<div class="cl" style="left:376.6px;top:286.04px;width:274.31px">(b) measures depending on outlier and</div>
<div class="cl" style="left:376.6px;top:306.19px;width:274.31px">inlier scaling parameters for real-world</div>
<div class="cl last" style="left:376.6px;top:326.34px;width:274.31px">outlier probabilities</div>
<div class="cl" style="left:-0.4px;top:650.94px;width:273.87px">(c) Measures depending on calibration</div>
<div class="cl" style="left:-0.4px;top:671.09px;width:273.87px">factor for synthetic outlier probabilities.</div>
<div class="cl" style="left:-0.4px;top:691.24px;width:273.87px">The outlier and inlier sampling parame-</div>
<div class="cl last" style="left:-0.4px;top:711.39px;width:273.87px">ters are both 0.25.</div>
<div class="cl" style="left:376.6px;top:650.94px;width:274.31px">(d) Measures depending on calibration</div>
<div class="cl" style="left:376.6px;top:671.09px;width:274.31px">factor for real-world outlier probabilities.</div>
<div class="cl" style="left:376.6px;top:691.24px;width:274.31px">The outlier and inlier scaling parameters</div>
<div class="cl last" style="left:376.6px;top:711.39px;width:274.31px">are both one.</div>
</body></html>
